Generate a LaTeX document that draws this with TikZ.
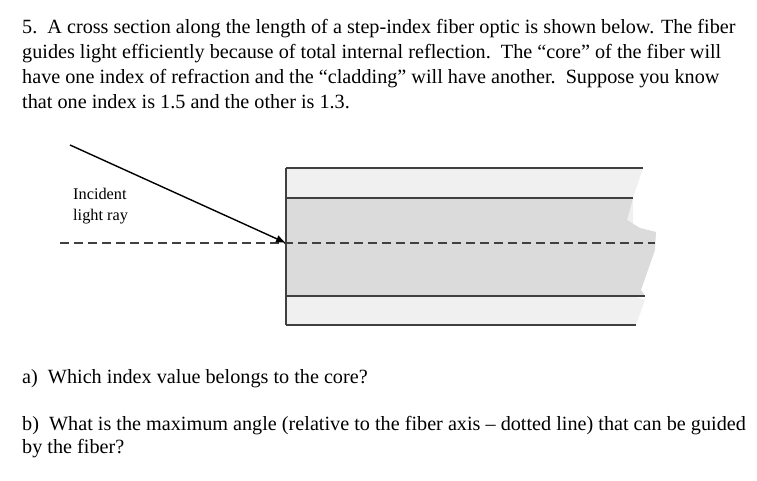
\documentclass[tikz,border=0pt]{standalone}
\usepackage{fontspec}
\usetikzlibrary{arrows.meta}
\setmainfont{Liberation Serif}
\begin{document}
\begin{tikzpicture}[x=1pt,y=-1pt,
  txt/.style={anchor=base west,inner sep=0pt,font=\fontsize{20.2}{22}\selectfont},
  small/.style={anchor=base west,inner sep=0pt,font=\fontsize{16.3}{18}\selectfont},
  edge/.style={draw=black!75,line width=1.4pt}]
\useasboundingbox (0,0) rectangle (757,481);
\node[txt] (l1) at (22,34) {5.\ \ A cross section along the length of a step-index fiber optic is shown below. The fiber};
\node[txt] (l2) at (22,59) {guides light efficiently because of total internal reflection.\ \ The ``core'' of the fiber will};
\node[txt] (l3) at (22,84) {have one index of refraction and the ``cladding'' will have another.\ \ Suppose you know};
\node[txt] (l4) at (22,109) {that one index is 1.5 and the other is 1.3.};
% cladding
\fill[black!6] (286,168) -- (643,168) -- (633,198) -- (633,296) -- (645,300) -- (636,325) -- (286,325) -- cycle;
\fill[black!14] (286,198) -- (633,198) -- (627,220) -- (640,228) -- (656,232) -- (655,250) -- (641,290) -- (645,296) -- (286,296) -- cycle;
\draw[edge] (286,168) -- (643,168);
\draw[edge] (286,198) -- (633,198);
\draw[edge] (286,296) -- (645,296);
\draw[edge] (286,325) -- (636,325);
\draw[edge] (286,168) -- (286,325);
\coordinate (a0) at (60,243);
\coordinate (a1) at (655,243);
\draw[black!75,line width=1.4pt,dash pattern=on 9pt off 5pt] (a0) -- (a1);
\coordinate (r0) at (70,145);
\coordinate (r1) at (286,243);
\draw[line width=1.4pt,-{Latex[length=10pt,width=8pt]}] (r0) -- (r1);
\node[small] (i1) at (73,200) {Incident};
\node[small] (i2) at (73,220) {light ray};
\node[txt] (qa) at (22,383) {a)\ \ Which index value belongs to the core?};
\node[txt] (qb1) at (22,430) {b)\ \ What is the maximum angle (relative to the fiber axis -- dotted line) that can be guided};
\node[txt] (qb2) at (22,453) {by the fiber?};
\end{tikzpicture}
\end{document}
